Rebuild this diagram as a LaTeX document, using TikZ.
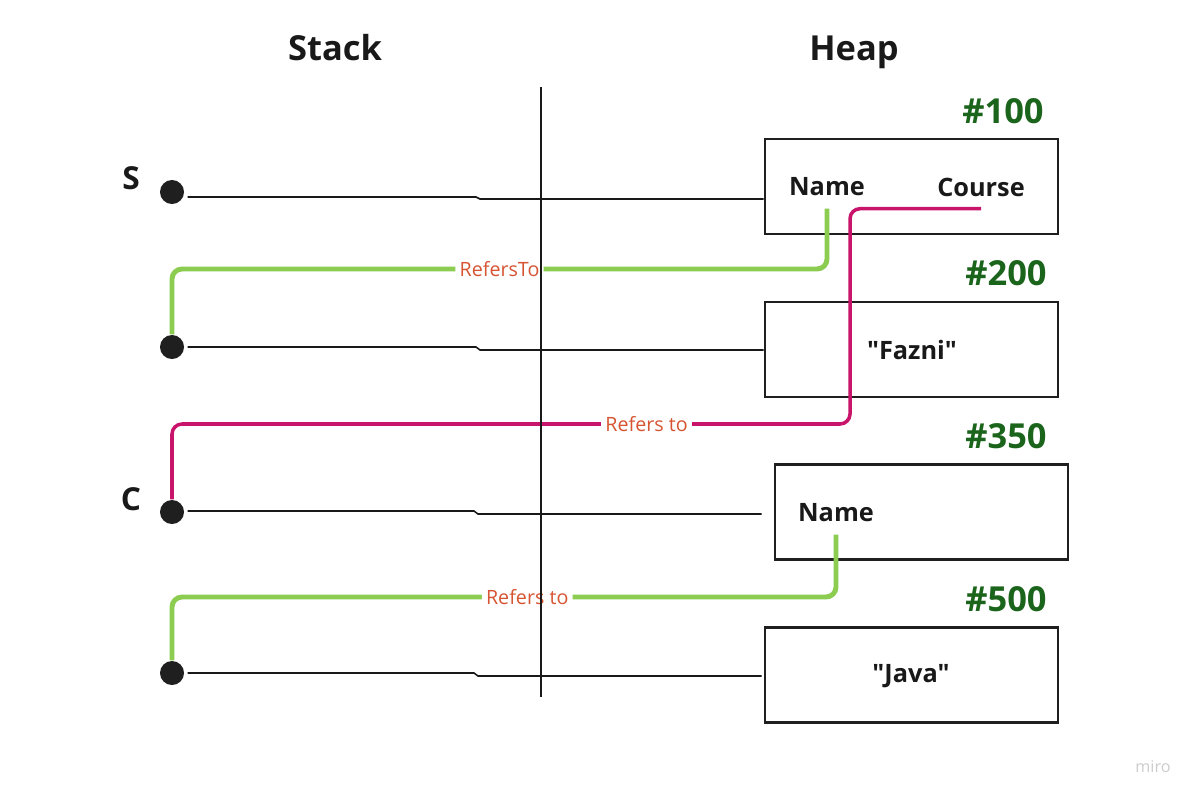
\documentclass[tikz,border=0pt]{standalone}
\usepackage{fontspec}
\setmainfont{Open Sans}[Ligatures=TeXOff]
\usepackage{xcolor}
\usepackage{tikz}
\usetikzlibrary{positioning}

\definecolor{refgreen}{RGB}{140,204,80}
\definecolor{refpink}{RGB}{200,20,106}
\definecolor{reftext}{RGB}{214,84,50}
\definecolor{addrgreen}{RGB}{27,100,27}

\begin{document}
\begin{tikzpicture}[x=0.01cm, y=-0.01cm,
    titlenode/.style={font=\bfseries\fontsize{9.8}{12}\selectfont, text=black!90, anchor=base},
    varnode/.style={font=\bfseries\fontsize{9}{11}\selectfont, text=black!90},
    dotnode/.style={circle, fill=black!88, minimum size=0.24cm, inner sep=0pt},
    heapbox/.style={draw=black!88, line width=0.7pt, minimum width=2.93cm, minimum height=0.95cm, inner sep=0pt},
    fieldnode/.style={font=\bfseries\fontsize{7.2}{9}\selectfont, text=black!90},
    addrnode/.style={font=\bfseries\fontsize{9.8}{12}\selectfont, text=addrgreen, inner sep=0pt},
    link/.style={black!90, line width=0.45pt},
    greenref/.style={refgreen, line width=1.4pt, rounded corners=0.1cm},
    pinkref/.style={refpink, line width=1pt, rounded corners=0.1cm},
    reflabel/.style={fill=white, text=reftext, font=\fontsize{5.6}{7}\selectfont, inner sep=1.2pt}
]
\useasboundingbox (0,0) rectangle (1200,800);

% titles
\node[titlenode](stack) at (335,60){Stack};
\node[titlenode](heap) at (854,60){Heap};

% stack side
\node[dotnode](d1) at (172,192){};
\node[dotnode](d2) at (172,347){};
\node[dotnode](d3) at (172,512){};
\node[dotnode](d4) at (172,673){};
\node[varnode](vs) at (131,178){S};
\node[varnode](vc) at (131,499){C};

% heap side
\node[heapbox](b1) at (911.5,186.5){};
\node[heapbox](b2) at (911.5,349.5){};
\node[heapbox](b3) at (921.5,512){};
\node[heapbox](b4) at (911.5,675){};
\node[addrnode](a1)[above left = 0.13cm and 0.15cm of b1.north east]{\#100};
\node[addrnode](a2)[above left = 0.14cm and 0.12cm of b2.north east]{\#200};
\node[addrnode](a3)[above left = 0.14cm and 0.22cm of b3.north east]{\#350};
\node[addrnode](a4)[above left = 0.14cm and 0.12cm of b4.north east]{\#500};
\node[fieldnode](nm1) at (827,187){Name};
\node[fieldnode](cs1) at (981,187){Course};
\node[fieldnode](fz) at (912,350){"Fazni"};
\node[fieldnode](nm3) at (836,513){Name};
\node[fieldnode](jv) at (911,676){"Java"};

% stack to heap
\draw[link] (d1.east) ++(3,5) -- (476,197) -- (480,199) -- (b1.west |- 0,199);
\draw[link] (d2.east) ++(3,0) -- (476,347) -- (480,350) -- (b2.west |- 0,350);
\draw[link] (d3.east) ++(3,-1) -- (474,511) -- (478,514) -- ([xshift=-0.12cm]b3.west |- 0,514);
\draw[link] (d4.east) ++(3,0) -- (474,673) -- (478,676) -- ([xshift=-0.02cm]b4.west |- 0,676);

% references
\draw[greenref] (nm1.south) -- (nm1.south |- 0,269) -- node[reflabel, pos=0.5]{RefersTo} (d2.north |- 0,269) -- (d2.north);
\draw[pinkref] (cs1.south) -- (cs1.south -| 850,0) -- (850,424) -- node[reflabel, pos=0.3]{Refers to} (d3.north |- 0,424) -- (d3.north);
\draw[greenref] (nm3.south) -- (nm3.south |- 0,597) -- node[reflabel, pos=0.465]{Refers to} (d4.north |- 0,597) -- (d4.north);

% divider
\draw[link] (541,87) -- (541,697);

\node[text=black!20, font=\fontsize{4.6}{6}\selectfont](miro) at (1153,767){miro};
\end{tikzpicture}
\end{document}
